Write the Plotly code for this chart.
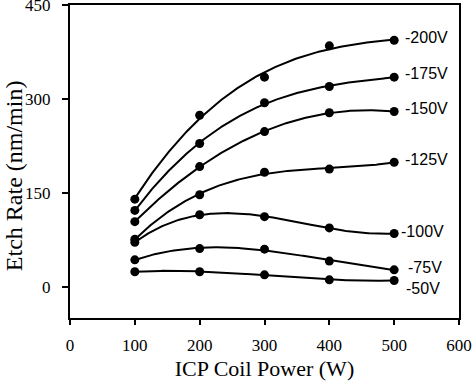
import numpy as np
import plotly.graph_objects as go

power = [100, 200, 300, 400, 500]
series_names = ["-200V", "-175V", "-150V", "-125V", "-100V", "-75V", "-50V"]
rate_200 = [140, 274, 335, 385, 394]
rate_175 = [122, 229, 294, 320, 335]
rate_150 = [104, 192, 248, 278, 280]
rate_125 = [76, 147, 183, 188, 199]
rate_100 = [71, 115, 112, 94, 85]
rate_75 = [43, 61, 60, 41, 27]
rate_50 = [24, 24, 19, 11, 10]
series_values = [rate_200, rate_175, rate_150, rate_125, rate_100, rate_75, rate_50]
x_ticks = [0, 100, 200, 300, 400, 500, 600]
y_ticks = [0, 150, 300, 450]

label_yshift = [3, 4, 3, 3, 2, 2, -8]
label_xshift = [9, 9, 9, 9, 5, 12, 10]

SERIF = "Liberation Serif, Times New Roman, serif"
SANS = "Liberation Sans, Arial, sans-serif"

fig = go.Figure()
xs = np.linspace(min(power), max(power), 200)
for name, vals in zip(series_names, series_values):
    coef = np.polyfit(power, vals, 3)
    fig.add_trace(go.Scatter(x=xs, y=np.polyval(coef, xs), mode="lines",
                             line=dict(color="black", width=2),
                             showlegend=False, hoverinfo="skip"))
    fig.add_trace(go.Scatter(x=power, y=vals, mode="markers",
                             marker=dict(color="black", size=9),
                             showlegend=False, name=name))

for name, vals, ys, xsft in zip(series_names, series_values, label_yshift, label_xshift):
    fig.add_annotation(x=power[-1], y=vals[-1], text=name, showarrow=False,
                       xanchor="left", yanchor="middle", xshift=xsft, yshift=ys,
                       font=dict(family=SANS, size=16, color="black"))

fig.add_annotation(xref="paper", yref="paper", x=-0.145, y=0.455,
                   text="Etch Rate (nm/min)", textangle=-90, showarrow=False,
                   xanchor="center", yanchor="middle",
                   font=dict(family=SERIF, size=24, color="black"))

fig.update_layout(
    width=474, height=382,
    margin=dict(l=70, r=15, t=5, b=64, autoexpand=False),
    plot_bgcolor="white", paper_bgcolor="white",
    font=dict(family=SERIF, color="black", size=17),
)
fig.update_xaxes(range=[0, 600], tickvals=x_ticks, showgrid=False, zeroline=False,
                 showline=True, linecolor="black", linewidth=2, mirror=True,
                 ticks="outside", ticklen=5, tickwidth=1.5, tickcolor="black",
                 tickfont=dict(family=SERIF, size=17, color="black"),
                 ticklabelstandoff=6, automargin=False,
                 title=dict(text="ICP Coil Power (W)",
                            font=dict(family=SERIF, size=22, color="black"), standoff=6))
fig.update_yaxes(range=[-50, 450.3], tickvals=y_ticks, showgrid=False, zeroline=False,
                 showline=True, linecolor="black", linewidth=2, mirror=True,
                 ticks="outside", ticklen=6, tickwidth=1.5, tickcolor="black",
                 tickfont=dict(family=SERIF, size=17, color="black"),
                 ticklabelstandoff=8, automargin=False, ticklabeloverflow="allow")

fig.write_html("out.html", config={"displayModeBar": False},
               post_script="document.body.style.margin='0';document.body.style.overflow='hidden';")
